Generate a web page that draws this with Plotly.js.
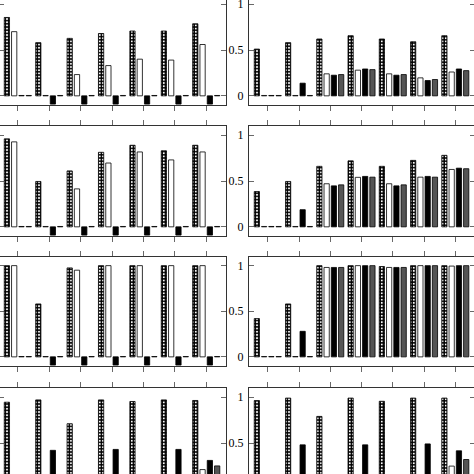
<!DOCTYPE html>
<html>
<head>
<meta charset="utf-8">
<script src="https://cdn.plot.ly/plotly-3.0.1.min.js"></script>
<style>
html,body{margin:0;padding:0;overflow:hidden;background:#fff;width:474px;height:474px;}
#chart{position:absolute;left:-30px;top:-30px;width:510px;height:540px;}
</style>
</head>
<body>
<div id="chart"></div>
<script>
// categories (group positions)
const categories = [0, 1, 2, 3, 4, 5, 6];
const yTickVals = [0, 0.5, 1];
const yTickText = ['0', '0.5', '1'];

// Row 1, left panel
const r1L_checkered = [0.855, 0.58, 0.627, 0.68, 0.707, 0.707, 0.786];
const r1L_white     = [0.70, 0, 0.232, 0.33, 0.40, 0.39, 0.56];
const r1L_black     = [0, -0.09, -0.09, -0.09, -0.09, -0.09, -0.09];
const r1L_gray      = [0, 0, 0, 0, 0, 0, 0];
// Row 1, right panel
const r1R_checkered = [0.51, 0.58, 0.62, 0.656, 0.62, 0.59, 0.656];
const r1R_white     = [0, 0, 0.24, 0.28, 0.24, 0.196, 0.26];
const r1R_black     = [0, 0.138, 0.225, 0.293, 0.225, 0.167, 0.293];
const r1R_gray      = [0, 0, 0.232, 0.286, 0.232, 0.178, 0.275];
// Row 2, left panel
const r2L_checkered = [0.96, 0.495, 0.61, 0.813, 0.89, 0.83, 0.89];
const r2L_white     = [0.927, 0, 0.414, 0.696, 0.817, 0.73, 0.817];
const r2L_black     = [0, -0.09, -0.09, -0.09, -0.09, -0.09, -0.09];
const r2L_gray      = [0, 0, 0, 0, 0, 0, 0];
// Row 2, right panel
const r2R_checkered = [0.385, 0.495, 0.66, 0.72, 0.66, 0.725, 0.78];
const r2R_white     = [0, 0, 0.47, 0.54, 0.47, 0.542, 0.626];
const r2R_black     = [0, 0.187, 0.447, 0.55, 0.447, 0.55, 0.64];
const r2R_gray      = [0, 0, 0.458, 0.542, 0.458, 0.542, 0.634];
// Row 3, left panel
const r3L_checkered = [1, 0.58, 0.975, 1, 1, 1, 1];
const r3L_white     = [1, 0, 0.95, 1, 1, 1, 1];
const r3L_black     = [0, -0.09, -0.09, -0.09, -0.09, -0.09, -0.09];
const r3L_gray      = [0, 0, 0, 0, 0, 0, 0];
// Row 3, right panel
const r3R_checkered = [0.42, 0.58, 1, 1, 0.99, 1, 1];
const r3R_white     = [0, 0, 0.98, 1, 0.98, 1, 0.995];
const r3R_black     = [0, 0.28, 0.98, 1, 0.98, 1, 1];
const r3R_gray      = [0, 0, 0.98, 1, 0.98, 1, 1];
// Row 4, left panel
const r4L_checkered = [0.945, 0.97, 0.71, 0.97, 0.953, 0.97, 0.964];
const r4L_white     = [0, 0, 0, 0, 0, 0, 0.21];
const r4L_black     = [0, 0.42, 0, 0.43, 0, 0.43, 0.31];
const r4L_gray      = [0, 0, 0, 0, 0, 0, 0.25];
// Row 4, right panel
const r4R_checkered = [0.963, 0.99, 0.79, 0.99, 0.955, 0.99, 0.99];
const r4R_white     = [0, 0, 0, 0, 0, 0, 0.248];
const r4R_black     = [0, 0.48, 0, 0.48, 0, 0.49, 0.415];
const r4R_gray      = [0, 0, 0, 0, 0, 0, 0.32];

const panels = [
  [r1L_checkered, r1L_white, r1L_black, r1L_gray],
  [r1R_checkered, r1R_white, r1R_black, r1R_gray],
  [r2L_checkered, r2L_white, r2L_black, r2L_gray],
  [r2R_checkered, r2R_white, r2R_black, r2R_gray],
  [r3L_checkered, r3L_white, r3L_black, r3L_gray],
  [r3R_checkered, r3R_white, r3R_black, r3R_gray],
  [r4L_checkered, r4L_white, r4L_black, r4L_gray],
  [r4R_checkered, r4R_white, r4R_black, r4R_gray]
];

const W = 510, H = 540, OX = 30, OY = 30;
const colsPx = [[-1, 226], [249, 475]];
const rowsPx = [[-5, 105], [126, 236], [256.5, 366], [388, 498]];

// zero-valued bars drawn as a thin flat bar (as in the original figure)
const show = v => (v === 0 ? 0.004 : v);

const styles = [
  {color: '#000', pattern: {shape: '.', fgcolor: '#fff', bgcolor: '#000', size: 3.2, solidity: 0.28, fillmode: 'replace'}},
  {color: '#fff'},
  {color: '#000'},
  {color: '#555'}
];

const traces = [];
const layout = {
  width: W, height: H,
  margin: {l: 0, r: 0, t: 0, b: 0},
  paper_bgcolor: '#fff', plot_bgcolor: '#fff',
  showlegend: false,
  barmode: 'group', bargap: 0.07, bargroupgap: 0.28,
  font: {family: 'Liberation Serif, Times New Roman, serif', size: 12, color: '#000'}
};

panels.forEach((series, i) => {
  const r = Math.floor(i / 2), c = i % 2;
  const n = i + 1;
  const xa = 'x' + (n === 1 ? '' : n), ya = 'y' + (n === 1 ? '' : n);
  series.forEach((vals, s) => {
    traces.push({
      type: 'bar', x: categories, y: vals.map(show),
      xaxis: xa, yaxis: ya,
      marker: Object.assign({line: {color: '#000', width: 0.8}}, styles[s]),
      hoverinfo: 'skip'
    });
  });
  const xd = [(colsPx[c][0] + OX) / W, (colsPx[c][1] + OX) / W];
  const yd = [1 - (rowsPx[r][1] + OY) / H, 1 - (rowsPx[r][0] + OY) / H];
  layout['xaxis' + (n === 1 ? '' : n)] = {
    domain: xd, anchor: ya, range: [-0.6, 6.63],
    tickvals: categories, showticklabels: false,
    ticks: 'outside', ticklen: 5, tickwidth: 0.8, tickcolor: '#444',
    mirror: 'ticks', showline: true, linecolor: '#333', linewidth: 1,
    showgrid: false, zeroline: false, fixedrange: true
  };
  layout['yaxis' + (n === 1 ? '' : n)] = {
    domain: yd, anchor: xa, range: [-0.1, 1.1],
    tickvals: yTickVals, ticktext: yTickText,
    showticklabels: c === 1,
    ticks: 'inside', ticklen: 5, tickwidth: 0.8, tickcolor: '#444',
    mirror: 'ticks', showline: true, linecolor: '#333', linewidth: 1,
    showgrid: false, zeroline: false, fixedrange: true,
    ticklabelstandoff: 2
  };
});

Plotly.newPlot('chart', traces, layout, {staticPlot: true, displayModeBar: false});
</script>
</body>
</html>
